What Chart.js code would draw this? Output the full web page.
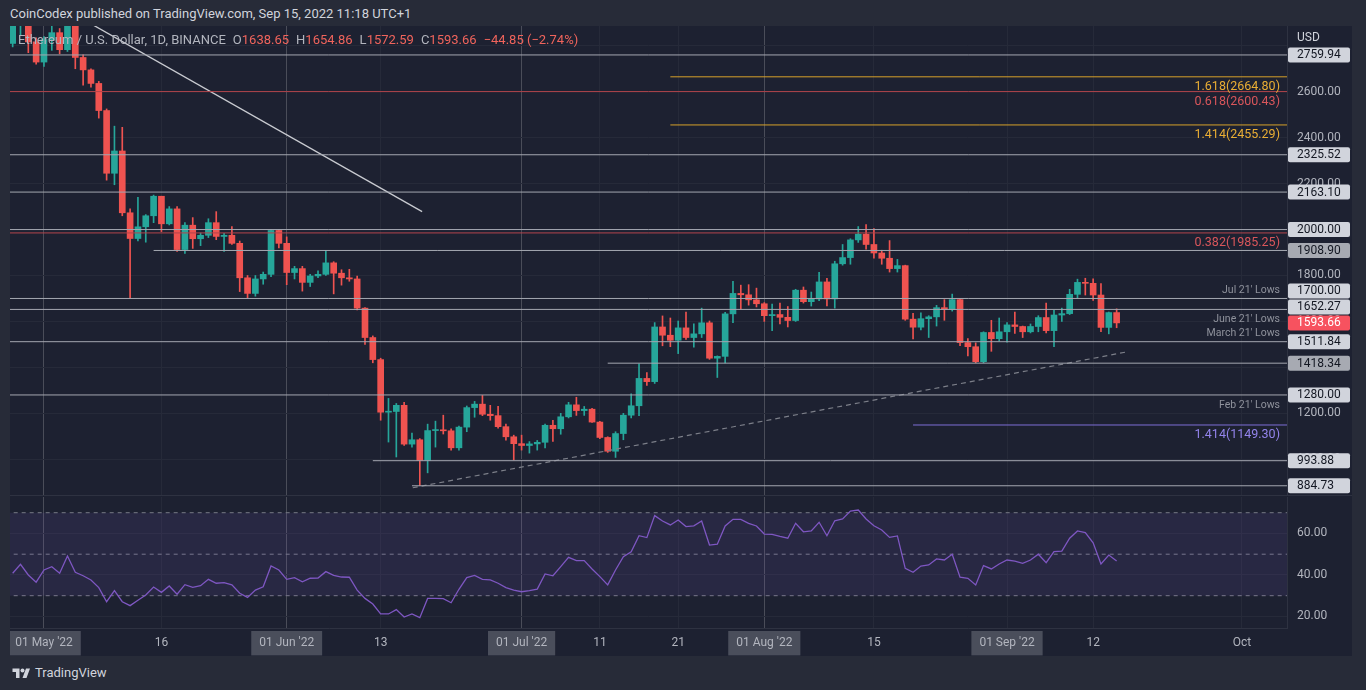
<!DOCTYPE html>
<html>
<head>
<meta charset="utf-8">
<title>Ethereum / U.S. Dollar, 1D</title>
<script src="https://cdn.jsdelivr.net/npm/chart.js@4.4.0/dist/chart.umd.min.js"></script>
<style>
  html, body { margin: 0; padding: 0; }
  body { width: 1366px; height: 690px; background: #272b38; position: relative; overflow: hidden;
         font-family: Roboto, 'Open Sans', sans-serif; }
  #pane { position: absolute; left: 10px; top: 26px; width: 1342px; height: 630px; background: #1d2131; }
  #priceBox { position: absolute; left: 10px; top: 26px; width: 1342px; height: 470px; }
  #rsiBox { position: absolute; left: 10px; top: 496px; width: 1342px; height: 160px; }
  #sep { position: absolute; left: 10px; top: 495px; width: 1342px; height: 1px; background: #2e3241; }
  #topLine { position: absolute; left: 10px; top: 6px; font-size: 13px; color: #d1d4dc; }
  #legend { position: absolute; left: 18px; top: 32px; font-size: 13px; color: #b2b5be; white-space: pre; }
  #legend b { font-weight: normal; color: #f0645c; }
  #legend span { margin-left: 7px; }
  #brand { position: absolute; left: 12px; top: 665px; font-size: 13px; color: #d1d4dc;
           display: flex; align-items: center; gap: 5px; }
</style>
</head>
<body>
<div id="pane"></div>
<div id="priceBox"><canvas id="price"></canvas></div>
<div id="sep"></div>
<div id="rsiBox"><canvas id="rsi"></canvas></div>
<div id="topLine">CoinCodex published on TradingView.com, Sep 15, 2022 11:18 UTC+1</div>
<div id="legend">Ethereum / U.S. Dollar, 1D, BINANCE<span>O<b>1638.65</b></span><span>H<b>1654.86</b></span><span>L<b>1572.59</b></span><span>C<b>1593.66</b></span><span><b>−44.85 (−2.74%)</b></span></div>
<div id="brand">
  <svg width="18" height="12" viewBox="0 0 36 24"><path d="M15 22H8V10H1V3h14v19zM29 22h-8l7-19h8l-7 19z" fill="#d1d4dc"/><circle cx="21" cy="7" r="4" fill="#d1d4dc"/></svg>
  <span>TradingView</span>
</div>

<script>
// day 0 = 01 May 2022; first candle is 27 Apr 2022
const firstDay = -4;

const opens = [
  2810, 2890, 2935, 2817,
  2729, 2827, 2857, 2783, 2940, 2749, 2695, 2636, 2518, 2245,
  2342, 2073, 1961, 2012, 2060, 2145, 2025, 2090, 1913, 2019,
  1960, 1975, 2030, 1970, 1975, 1940, 1790, 1722, 1785, 1805, 1996,
  1940, 1813, 1830, 1770, 1798, 1805, 1855, 1810, 1790, 1785,
  1658, 1530, 1434, 1205, 1208, 1235, 1066, 1085, 995, 1125,
  1128, 1124, 1050, 1140, 1225, 1240, 1196, 1190, 1142, 1098,
  1068, 1060, 1067, 1074, 1148, 1133, 1185, 1237, 1212, 1218,
  1162, 1095, 1035, 1112, 1192, 1233, 1352, 1338, 1576, 1540,
  1518, 1572, 1530, 1546, 1594, 1440, 1448, 1633, 1722, 1716, 1694,
  1677, 1625, 1630, 1618, 1604, 1736, 1686, 1698, 1772, 1698,
  1851, 1878, 1955, 1980, 1935, 1898, 1875, 1830, 1843, 1610,
  1575, 1612, 1620, 1660, 1652, 1695, 1508, 1490, 1425, 1552, 1525,
  1555, 1585, 1578, 1555, 1578, 1617, 1560, 1628, 1634, 1718,
  1770, 1766, 1715, 1574, 1638.65
];
const highs = [
  2900, 2985, 2945, 2835,
  2840, 2885, 2875, 2955, 2955, 2760, 2700, 2645, 2525, 2450,
  2445, 2090, 2140, 2065, 2150, 2145, 2100, 2100, 2030, 2052,
  1985, 2047, 2078, 1983, 2013, 1950, 1800, 1800, 1815, 2000, 2000,
  1968, 1840, 1840, 1805, 1820, 1910, 1860, 1825, 1827, 1797,
  1660, 1537, 1440, 1265, 1243, 1248, 1114, 1090, 1153, 1166,
  1192, 1133, 1145, 1232, 1252, 1278, 1235, 1230, 1153, 1105,
  1105, 1077, 1082, 1153, 1170, 1200, 1248, 1270, 1230, 1222,
  1165, 1098, 1120, 1200, 1285, 1416, 1377, 1595, 1624, 1615,
  1602, 1641, 1590, 1658, 1602, 1450, 1640, 1775, 1758, 1760, 1745,
  1682, 1676, 1680, 1665, 1740, 1750, 1728, 1814, 1788, 1862,
  1935, 1960, 2013, 2022, 2004, 1910, 1952, 1870, 1845, 1635,
  1637, 1625, 1670, 1695, 1719, 1700, 1525, 1507, 1555, 1605, 1615,
  1595, 1641, 1580, 1589, 1625, 1680, 1648, 1658, 1740, 1784,
  1788, 1785, 1765, 1641, 1654.86
];
const lows = [
  2795, 2845, 2770, 2720,
  2710, 2780, 2765, 2775, 2700, 2628, 2620, 2485, 2215, 2195,
  2060, 1700, 1950, 1945, 2030, 1991, 2020, 1905, 1896, 1918,
  1930, 1965, 1956, 1905, 1935, 1730, 1702, 1710, 1762, 1795, 1920,
  1760, 1785, 1732, 1752, 1790, 1800, 1720, 1758, 1775, 1650,
  1500, 1420, 1170, 1075, 1010, 1060, 1053, 885, 941, 1053,
  1110, 1040, 1040, 1120, 1183, 1190, 1170, 1135, 1083, 997,
  1040, 1027, 1040, 1050, 1078, 1109, 1180, 1191, 1191, 1160,
  1090, 1030, 1008, 1085, 1180, 1190, 1322, 1330, 1494, 1490,
  1460, 1522, 1488, 1530, 1435, 1356, 1420, 1595, 1654, 1671, 1663,
  1600, 1560, 1589, 1576, 1600, 1680, 1667, 1690, 1668, 1658,
  1845, 1849, 1944, 1915, 1875, 1849, 1815, 1815, 1605, 1524,
  1563, 1530, 1580, 1605, 1645, 1495, 1450, 1420, 1420, 1470, 1515,
  1510, 1548, 1530, 1550, 1555, 1550, 1490, 1600, 1630, 1702,
  1715, 1692, 1555, 1546, 1572.59
];
const closes = [
  2890, 2935, 2817, 2729,
  2827, 2857, 2783, 2940, 2749, 2695, 2636, 2518, 2245, 2342,
  2073, 1961, 2012, 2060, 2145, 2025, 2090, 1913, 2019, 1960,
  1975, 2030, 1970, 1975, 1940, 1790, 1722, 1785, 1805, 1996, 1940,
  1813, 1830, 1770, 1798, 1805, 1855, 1810, 1790, 1785, 1658,
  1530, 1434, 1205, 1208, 1235, 1066, 1085, 995, 1125, 1128,
  1124, 1050, 1140, 1225, 1240, 1196, 1190, 1142, 1098, 1068,
  1060, 1067, 1074, 1148, 1133, 1185, 1237, 1212, 1218, 1162,
  1095, 1035, 1112, 1192, 1233, 1352, 1338, 1576, 1540, 1518,
  1572, 1530, 1546, 1594, 1440, 1448, 1633, 1722, 1716, 1694, 1677,
  1625, 1630, 1618, 1604, 1736, 1686, 1698, 1772, 1698, 1851,
  1878, 1955, 1980, 1935, 1898, 1875, 1830, 1843, 1610, 1575,
  1612, 1620, 1660, 1652, 1695, 1508, 1490, 1425, 1552, 1525, 1555,
  1585, 1578, 1555, 1578, 1617, 1560, 1628, 1634, 1718, 1770,
  1766, 1715, 1574, 1638.65, 1593.66
];
const rsi = [
  40.8, 45.1, 40, 36.5,
  42.4, 44, 40.8, 49.1, 41.3, 39.6, 37.6, 33.9, 27.1, 32.4,
  27.1, 25.2, 27.8, 30.3, 34.2, 31.6, 34.7, 30.7, 35.3, 34.0,
  34.8, 37.9, 36, 36.3, 35.2, 31.2, 29.2, 32.7, 34.3, 44.3, 42.4,
  37.9, 38.7, 36.7, 38.4, 38.5, 41.6, 39.8, 39, 38.9, 32.7,
  28.7, 26, 21.2, 21.2, 23.3, 19.7, 21.2, 19.4, 28.7, 28.7,
  28.6, 26.6, 33.1, 38.7, 39.8, 37.9, 37.6, 36, 33.9, 32.7,
  31.9, 32.4, 33.2, 40.5, 39.6, 44, 48.5, 46.9, 46.9, 42.9,
  39.2, 35.2, 42.4, 48.8, 51.2, 58.9, 58, 68.6, 66, 64.1,
  66.5, 63.3, 63.7, 66, 54.4, 54.8, 63.6, 66.8, 66.8, 64.9, 63.6,
  59.7, 59.6, 58.6, 57.7, 64.9, 60.8, 61.2, 65.4, 58.9, 66.1,
  67, 70.8, 71.3, 67, 63.7, 61.7, 58.1, 58.8, 43.2, 41.3,
  44.3, 44.8, 47.7, 47.2, 50, 38.9, 38.4, 35.2, 44.5, 42.9, 45.3,
  47.2, 46.7, 45.6, 47.2, 50, 45.9, 51.2, 51.5, 57.7, 61.2,
  60.4, 55.5, 45.3, 49.6, 46.7
];

const xTickDays = [0, 15, 31, 43, 61, 71, 81, 92, 106, 123, 134, 153];
const xTickLabels = ["01 May '22", '16', "01 Jun '22", '13', "01 Jul '22", '11', '21', "01 Aug '22", '15', "01 Sep '22", '12', 'Oct'];
const boxedDays = [0, 31, 61, 92, 123];
const brightDays = [0, 31, 61, 92];

// horizontal drawings: price, first day drawn, kind, note
const levelValues = [2759.94, 2664.80, 2600.43, 2455.29, 2325.52, 2163.10, 2000.00, 1985.25, 1908.90,
                     1700.00, 1652.27, 1511.84, 1418.34, 1280.00, 1149.30, 993.88, 884.73];
const levelStart = [-10, 80, -10, 80, -10, -10, -10, -10, 14, -10, -10, -10, 72, -10, 111, 42, 47];
const levelKind = ['line', 'fibA', 'fibB', 'fibA', 'line', 'line', 'line', 'fibB', 'line',
                   'line', 'line', 'line', 'line', 'line', 'fibC', 'line', 'line'];
const levelNotes = ['', '1.618(2664.80)', '0.618(2600.43)', '1.414(2455.29)', '', '', '', '0.382(1985.25)', '',
                    "Jul 21' Lows", "June 21' Lows", "March 21' Lows", '', "Feb 21' Lows", '1.414(1149.30)', '', ''];
const noteAbove = [false, false, false, false, false, false, false, false, false,
                   true, false, true, false, false, false, false, false];

const tagValues = [2759.94, 2325.52, 2163.10, 2000.00, 1908.90, 1700.00, 1652.27, 1593.66, 1511.84, 1418.34, 1280.00, 993.88, 884.73];
const tagKind = ['light', 'light', 'light', 'light', 'dim', 'light', 'light', 'last', 'light', 'dim', 'light', 'light', 'light'];

const trendDown = [{ x: 5, y: 2915 }, { x: 48.3, y: 2078 }];
const trendUp = [{ x: 47.1, y: 876 }, { x: 138.4, y: 1468 }];

const rsiLevels = [70, 50, 30];

const UP = '#26a69a', DOWN = '#ef5350';
const FONT = 'Roboto, "Open Sans", sans-serif';
const X_MIN = -4.34, X_MAX = 158.76;

const lineColor = { line: '#a4a7b0', fibA: '#d6a12a', fibB: '#b3454c', fibC: '#7d6ed6' };
const noteColor = { line: '#8f929c', fibA: '#eaae34', fibB: '#d9565b', fibC: '#9384ec' };
const tagBg = { light: '#d1d4dc', dim: '#a7aab2', last: '#f7525f' };

const candleCol = opens.map((o, i) => closes[i] >= o ? UP : DOWN);

function xAxis(withLabels) {
  return {
    type: 'linear', min: X_MIN, max: X_MAX, offset: false,
    afterBuildTicks: s => { s.ticks = xTickDays.map(v => ({ value: v })); },
    afterFit: s => { s.height = withLabels ? 28 : 0; s.paddingLeft = 0; s.paddingRight = 0; },
    grid: {
      offset: false, drawTicks: false,
      color: c => brightDays.includes(c.tick && c.tick.value) ? '#4a4d59' : '#262a39'
    },
    border: { display: withLabels, color: '#2e3241' },
    ticks: {
      display: withLabels, autoSkip: false, maxRotation: 0, padding: 8,
      color: '#b2b5be', font: { family: FONT, size: 12 },
      callback: v => xTickLabels[xTickDays.indexOf(v)] || '',
      showLabelBackdrop: c => boxedDays.includes(c.tick && c.tick.value),
      backdropColor: '#4a4e5b',
      backdropPadding: { x: 8, y: 5 }
    }
  };
}

function yFit(s) { s.width = 65; s.paddingTop = 0; s.paddingBottom = 0; }

const priceOverlay = {
  id: 'priceOverlay',
  afterDraw(chart) {
    const { ctx, chartArea, scales: { y } } = chart;
    ctx.save();
    ctx.textBaseline = 'middle';

    // notes next to the levels
    ctx.textAlign = 'right';
    levelValues.forEach((v, i) => {
      if (!levelNotes[i]) return;
      const k = levelKind[i];
      ctx.font = (k === 'line' ? '10.5px ' : '12.5px ') + FONT;
      ctx.fillStyle = noteColor[k];
      const py = y.getPixelForValue(v) + (noteAbove[i] ? -8 : 10);
      ctx.fillText(levelNotes[i], chartArea.right - 7, py);
    });

    // price tags on the axis, pushed apart when they overlap
    const order = tagValues.map((v, i) => i).sort((a, b) => tagValues[a] - tagValues[b]);
    let prev = Infinity;
    ctx.textAlign = 'left';
    ctx.font = '12px ' + FONT;
    order.forEach(i => {
      let py = Math.min(y.getPixelForValue(tagValues[i]), prev - 16);
      prev = py;
      ctx.fillStyle = tagBg[tagKind[i]];
      ctx.beginPath();
      ctx.roundRect(chartArea.right + 1, py - 7.5, 62, 15, 2);
      ctx.fill();
      ctx.fillStyle = tagKind[i] === 'last' ? '#ffffff' : '#131722';
      ctx.fillText(tagValues[i].toFixed(2), chartArea.right + 10, py + 0.5);
    });

    ctx.fillStyle = '#d1d4dc';
    ctx.fillText('USD', chartArea.right + 10, 12);
    ctx.restore();
  }
};

const levelSets = levelValues.map((v, i) => ({
  type: 'line',
  data: [{ x: levelStart[i], y: v }, { x: 170, y: v }],
  borderColor: lineColor[levelKind[i]], borderWidth: 1, pointRadius: 0, clip: 0
}));

new Chart(document.getElementById('price'), {
  type: 'bar',
  data: {
    datasets: [
      ...levelSets,
      { type: 'line', data: trendDown, borderColor: '#c9cbd1', borderWidth: 1.3, pointRadius: 0, clip: 0 },
      { type: 'line', data: trendUp, borderColor: '#7c7f89', borderWidth: 1.2, borderDash: [5, 4], pointRadius: 0, clip: 0 },
      {
        data: opens.map((o, i) => ({ x: firstDay + i, y: [o, closes[i]] })),
        backgroundColor: candleCol, barThickness: 6, minBarLength: 1, grouped: false, clip: 0
      },
      {
        data: lows.map((l, i) => ({ x: firstDay + i, y: [l, highs[i]] })),
        backgroundColor: candleCol, barThickness: 1, grouped: false, clip: 0
      }
    ]
  },
  options: {
    responsive: true, maintainAspectRatio: false, animation: false, events: [],
    layout: { padding: 0 },
    plugins: { legend: { display: false }, tooltip: { enabled: false } },
    scales: {
      x: xAxis(false),
      y: {
        position: 'right', min: 840.2, max: 2886,
        afterFit: yFit,
        grid: { color: '#262a39', drawTicks: false },
        border: { color: '#2e3241' },
        ticks: {
          stepSize: 200, includeBounds: false, padding: 10, crossAlign: 'near',
          color: '#b2b5be', font: { family: FONT, size: 12 },
          callback: v => v > 2700 ? '' : v.toFixed(2)
        }
      }
    }
  },
  plugins: [priceOverlay]
});

new Chart(document.getElementById('rsi'), {
  type: 'line',
  data: {
    datasets: [
      {
        data: rsi.map((v, i) => ({ x: firstDay + i, y: v })),
        borderColor: '#7e57c2', borderWidth: 1.3, pointRadius: 0, tension: 0, clip: 0
      },
      ...rsiLevels.map((v, i) => ({
        data: [{ x: -10, y: v }, { x: 170, y: v }],
        borderColor: '#787b86', borderWidth: 1, borderDash: [4, 4], pointRadius: 0, clip: 0,
        fill: i === 0 ? { value: rsiLevels[rsiLevels.length - 1] } : false,
        backgroundColor: 'rgba(126, 87, 194, 0.12)'
      }))
    ]
  },
  options: {
    responsive: true, maintainAspectRatio: false, animation: false, events: [],
    layout: { padding: { top: 1 } },
    plugins: { legend: { display: false }, tooltip: { enabled: false } },
    scales: {
      x: xAxis(true),
      y: {
        position: 'right', min: 14.43, max: 77.57,
        afterFit: yFit,
        grid: { color: '#262a39', drawTicks: false },
        border: { color: '#2e3241' },
        ticks: {
          stepSize: 20, includeBounds: false, padding: 10, crossAlign: 'near',
          color: '#b2b5be', font: { family: FONT, size: 12 },
          callback: v => v.toFixed(2)
        }
      }
    }
  }
});
</script>
</body>
</html>
